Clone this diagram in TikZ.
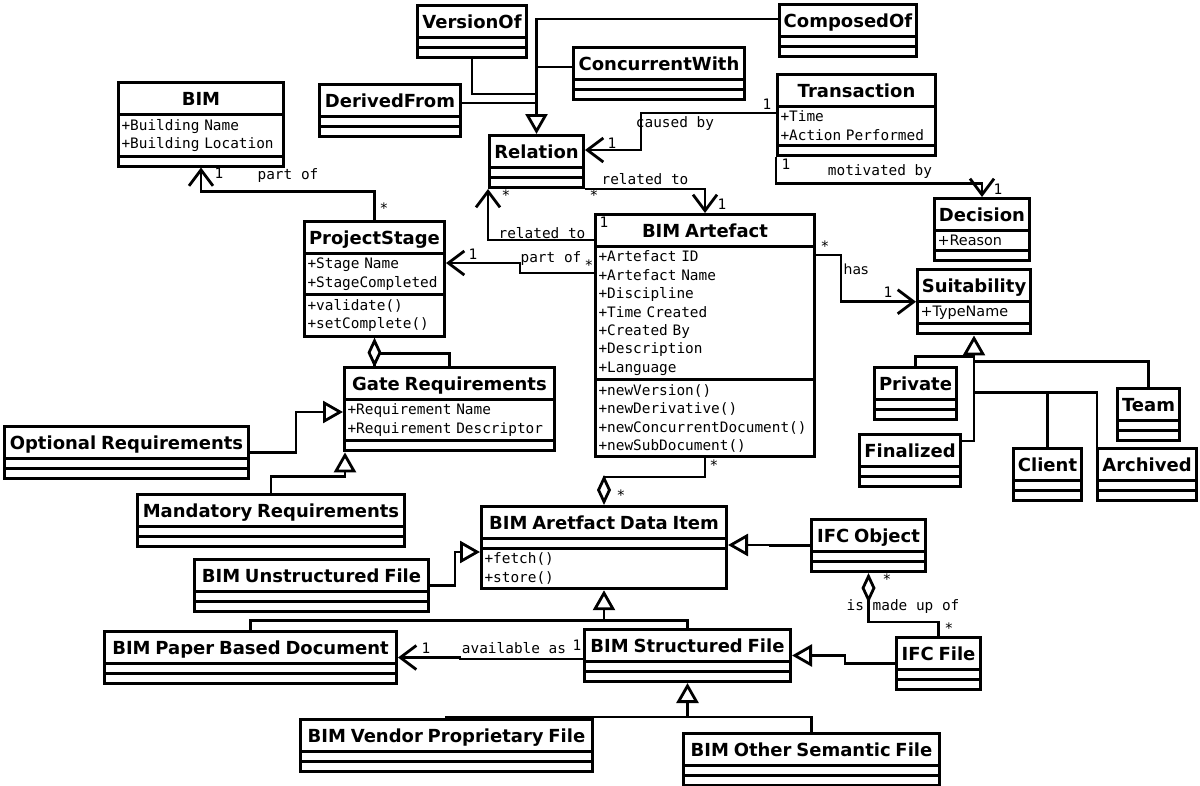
\documentclass[tikz,border=0pt]{standalone}
\usepackage{fontspec}
\setmainfont{DejaVu Sans}
\setsansfont{DejaVu Sans}
\setmonofont{DejaVu Sans Mono}
\usetikzlibrary{shapes.multipart}
\usetikzlibrary{arrows.meta}
\usetikzlibrary{calc}
\tikzset{>=latex}
\newcommand{\titlefont}{\sffamily\bfseries\fontsize{18}{22}\selectfont}
\newcommand{\attrfont}{\ttfamily\fontsize{14.4}{18.4}\selectfont}
\newcommand{\ctitle}[1]{\makebox[\linewidth]{\rule[-5pt]{0pt}{23pt}\titlefont #1}}
\newcommand{\nopart}{\rule{0pt}{1pt}}
\tikzstyle{umlclass}=[draw,line width=3pt,rectangle split,rectangle split parts=3,inner xsep=3pt,inner ysep=3pt,anchor=north west,font=\attrfont]
\tikzstyle{thickline}=[line width=2.8pt]
\tikzstyle{gen}=[thickline,-{Triangle[length=20pt,width=22pt,fill=white]}]
\tikzstyle{assoc}=[thickline,-{Straight Barb[length=16pt,width=24pt]}]
\tikzstyle{aggr}=[thickline,-{Diamond[length=30pt,width=14pt,fill=white]}]
\tikzstyle{lbl}=[font=\attrfont,inner sep=1pt]

\begin{document}
\begin{tikzpicture}[x=1pt,y=-1pt]
  \useasboundingbox (0,0) rectangle (1200,785);

  % relation classes
  \node[umlclass,text width=103pt] (vo) at (416,4) {\ctitle{VersionOf}\nodepart{two}\nopart\nodepart{three}\nopart};
  \node[umlclass,text width=131pt] (cmp) at (778,3) {\ctitle{ComposedOf}\nodepart{two}\nopart\nodepart{three}\nopart};
  \node[umlclass,text width=165pt] (cw) at (572,46) {\ctitle{ConcurrentWith}\nodepart{two}\nopart\nodepart{three}\nopart};
  \node[umlclass,text width=135pt] (df) at (318,83) {\ctitle{DerivedFrom}\nodepart{two}\nopart\nodepart{three}\nopart};
  \node[umlclass,text width=88pt] (rel) at (488,134) {\ctitle{Relation}\nodepart{two}\nopart\nodepart{three}\nopart};

  % upper classes
  \node[umlclass,text width=159pt] (bim) at (117,81) {\ctitle{BIM}\nodepart{two}+Building Name\\+Building Location\nodepart{three}\nopart};
  \node[umlclass,text width=152pt] (tr) at (776,73) {\ctitle{Transaction}\nodepart{two}+Time\\+Action Performed\nodepart{three}\nopart};
  \node[umlclass,text width=89pt] (dec) at (933,197) {\ctitle{Decision}\nodepart{two}{\sffamily +Reason}\nodepart{three}\nopart};
  \node[umlclass,text width=134pt] (ps) at (303,220) {\ctitle{ProjectStage}\nodepart{two}+Stage Name\\+StageCompleted\nodepart{three}+validate()\\+setComplete()};
  \node[umlclass,text width=213pt] (art) at (594,213) {\ctitle{BIM Artefact}\nodepart{two}+Artefact ID\\+Artefact Name\\+Discipline\\+Time Created\\+Created By\\+Description\\+Language\nodepart{three}+newVersion()\\+newDerivative()\\+newConcurrentDocument()\\+newSubDocument()};

  % suitability types
  \node[umlclass,text width=107pt] (suit) at (916,268) {\ctitle{Suitability}\nodepart{two}{\sffamily +TypeName}\nodepart{three}\nopart};
  \node[umlclass,text width=76pt] (pri) at (873,366) {\ctitle{Private}\nodepart{two}\nopart\nodepart{three}\nopart};
  \node[umlclass,text width=56pt] (team) at (1116,387) {\ctitle{Team}\nodepart{two}\nopart\nodepart{three}\nopart};
  \node[umlclass,text width=95pt] (fin) at (858,433) {\ctitle{Finalized}\nodepart{two}\nopart\nodepart{three}\nopart};
  \node[umlclass,text width=62pt] (cli) at (1012,447) {\ctitle{Client}\nodepart{two}\nopart\nodepart{three}\nopart};
  \node[umlclass,text width=93pt] (arc) at (1096,447) {\ctitle{Archived}\nodepart{two}\nopart\nodepart{three}\nopart};

  % requirements
  \node[umlclass,text width=204pt] (gate) at (343,366) {\ctitle{Gate Requirements}\nodepart{two}+Requirement Name\\+Requirement Descriptor\nodepart{three}\nopart};
  \node[umlclass,text width=238pt] (opt) at (3,425) {\ctitle{Optional Requirements}\nodepart{two}\nopart\nodepart{three}\nopart};
  \node[umlclass,text width=261pt] (mand) at (136,493) {\ctitle{Mandatory Requirements}\nodepart{two}\nopart\nodepart{three}\nopart};

  % data items and files
  \node[umlclass,text width=239pt] (data) at (480,505) {\ctitle{BIM Aretfact Data Item}\nodepart{two}\nopart\nodepart{three}+fetch()\\+store()};
  \node[umlclass,text width=228pt] (uns) at (193,558) {\ctitle{BIM Unstructured File}\nodepart{two}\nopart\nodepart{three}\nopart};
  \node[umlclass,text width=108pt] (obj) at (810,518) {\ctitle{IFC Object}\nodepart{two}\nopart\nodepart{three}\nopart};
  \node[umlclass,text width=78pt] (ifcf) at (895,636) {\ctitle{IFC File}\nodepart{two}\nopart\nodepart{three}\nopart};
  \node[umlclass,text width=286pt] (paper) at (103,630) {\ctitle{BIM Paper Based Document}\nodepart{two}\nopart\nodepart{three}\nopart};
  \node[umlclass,text width=200pt] (struct) at (583,628) {\ctitle{BIM Structured File}\nodepart{two}\nopart\nodepart{three}\nopart};
  \node[umlclass,text width=286pt] (vendor) at (299,718) {\ctitle{BIM Vendor Proprietary File}\nodepart{two}\nopart\nodepart{three}\nopart};
  \node[umlclass,text width=250pt] (other) at (682,732) {\ctitle{BIM Other Semantic File}\nodepart{two}\nopart\nodepart{three}\nopart};

  % hubs where generalisations meet
  \coordinate (relhub) at ([yshift=22pt]rel.north);
  \coordinate (suithub) at ([yshift=-21pt]suit.south);
  \coordinate (datahub) at ([yshift=-30pt]data.south);
  \coordinate (structhub) at ([yshift=-34pt]struct.south);

  % generalisations
  \draw[gen] ([yshift=-16pt]cmp.north west) -| (rel.north);
  \draw[thickline] ([yshift=-21pt]cw.north west) -| (relhub);
  \draw[thickline] (vo.south) |- ([yshift=40pt]rel.north);
  \draw[thickline] ([yshift=-20pt]df.north east) -| (relhub);

  \draw[gen] (pri.north) |- (suithub) -- (suit.south);
  \draw[thickline] ([yshift=-8pt]fin.north east) -| (suithub);
  \draw[thickline] (team.north) |- ([yshift=-26pt]suit.south);
  \draw[thickline] (cli.north) |- ([yshift=-57pt]suit.south);
  \draw[thickline] ([xshift=1pt]arc.north west) |- ([yshift=-57pt]suit.south);

  \draw[gen] (opt.east) -- ++(46,0) |- ([yshift=-46pt]gate.north west);
  \draw[gen] (mand.north) |- ([xshift=2pt,yshift=-24pt]gate.south west) -- ([xshift=2pt]gate.south west);

  \draw[gen] (uns.east) -- ++(25,0) |- ([yshift=-47pt]data.north west);
  \draw[gen] (obj.west) -- ++(-40,0) |- ([yshift=-40pt]data.north east);
  \draw[gen] (paper.north) |- (datahub) -- (data.south);
  \draw[thickline] (struct.north) |- (datahub);
  \draw[gen] (ifcf.west) -- ++(-50,0) |- (struct.east);
  \draw[gen] (vendor.north) |- (structhub) -- (struct.south);
  \draw[thickline] (other.north) |- (structhub);

  % aggregations
  \draw[thickline] (gate.north) |- ([yshift=-16pt]ps.south);
  \draw[aggr] ([yshift=-30pt]ps.south) -- (ps.south);
  \draw[aggr] (art.south) |- ([yshift=28pt]data.north) -- (data.north);
  \draw[aggr] (ifcf.north) |- ([yshift=-49pt]obj.south) -- (obj.south);

  % associations
  \draw[assoc] ([yshift=-40pt]tr.north west) -- ++(-135,0) |- ([yshift=-16pt]rel.north east);
  \draw[assoc] (tr.south west) -- ++(0,27) -| (dec.north);
  \draw[assoc] (ps.north) |- ([yshift=-24pt]bim.south) -- (bim.south);
  \draw[assoc] (rel.south east) -| (art.north);
  \draw[assoc] ([yshift=-27pt]art.north west) -| (rel.south west);
  \draw[assoc] ([yshift=-60pt]art.north west) -- ++(-74,0) |- ([yshift=-43pt]ps.north east);
  \draw[assoc] ([yshift=-42pt]art.north east) -- ++(25,0) |- (suit.west);
  \draw[assoc] ([yshift=-31pt]struct.north west) -- ++(-123,0) |- (paper.east);

  % labels and multiplicities
  \node[lbl] (lcause) at (675,124) {caused by};
  \node[lbl] (mcause1) at (767,104) {1};
  \node[lbl] (mcause2) at (612,143) {1};
  \node[lbl] (lmot) at (880,172) {motivated by};
  \node[lbl] (mmot1) at (786,164) {1};
  \node[lbl] (mmot2) at (998,189) {1};
  \node[lbl] (lpartbim) at (288,176) {part of};
  \node[lbl] (mpartbim1) at (219,173) {1};
  \node[lbl] (mpartbim2) at (384,208) {*};
  \node[lbl] (lrel1) at (645,179) {related to};
  \node[lbl] (mrel1a) at (594,195) {*};
  \node[lbl] (mrel1b) at (722,204) {1};
  \node[lbl] (lrel2) at (542,233) {related to};
  \node[lbl] (mrel2a) at (506,195) {*};
  \node[lbl] (mrel2b) at (604,222) {1};
  \node[lbl] (lpartps) at (551,259) {part of};
  \node[lbl] (mpartps1) at (473,254) {1};
  \node[lbl] (mpartps2) at (589,265) {*};
  \node[lbl,font=\sffamily\fontsize{14}{17}\selectfont] (lhas) at (856,269) {has};
  \node[lbl] (mhas1) at (825,246) {*};
  \node[lbl] (mhas2) at (888,292) {1};
  \node[lbl] (mdata1) at (714,465) {*};
  \node[lbl] (mdata2) at (621,495) {*};
  \node[lbl] (lavail) at (514,648) {available as};
  \node[lbl] (mavail1) at (426,648) {1};
  \node[lbl] (mavail2) at (577,645) {1};
  \node[lbl] (lmade) at (903,607) {is made up of};
  \node[lbl] (mmade1) at (887,579) {*};
  \node[lbl] (mmade2) at (949,628) {*};
\end{tikzpicture}
\end{document}
